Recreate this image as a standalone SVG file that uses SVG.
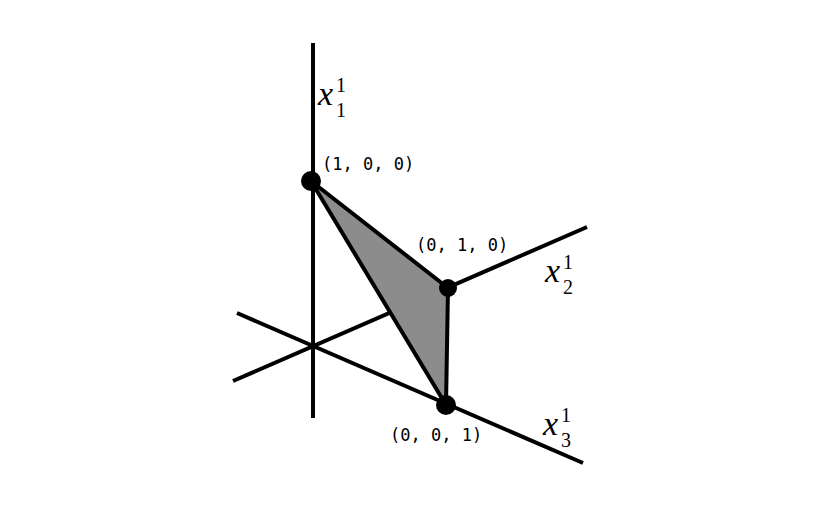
<svg xmlns="http://www.w3.org/2000/svg" width="820" height="510" viewBox="0 0 820 510">
<style>
.ax{stroke:#000;stroke-width:4;fill:none}
.lb{font-family:"DejaVu Sans Mono","Liberation Mono",monospace;font-size:17px;fill:#000}
.v{font-family:"Liberation Serif",serif;font-style:italic;font-size:34px;fill:#000}
.s{font-family:"Liberation Serif",serif;font-size:20px;fill:#000}
</style>
<rect width="820" height="510" fill="#fff"/>
<g id="connectors">
<line class="ax" x1="313" y1="43" x2="313" y2="418"/>
<line class="ax" x1="237" y1="313" x2="583" y2="463"/>
<line class="ax" x1="233" y1="381" x2="587" y2="227"/>
</g>
<g id="simplex">
<polygon points="311,181 448,288 446,405" fill="#8c8c8c" stroke="#000" stroke-width="4" stroke-linejoin="round"/>
</g>
<g id="p100"><circle cx="311" cy="181" r="10"/><text class="lb" x="322" y="170">(1, 0, 0)</text></g>
<g id="p010"><circle cx="448" cy="288" r="9"/><text class="lb" x="416" y="251">(0, 1, 0)</text></g>
<g id="p001"><circle cx="446" cy="405" r="10"/><text class="lb" x="390" y="441">(0, 0, 1)</text></g>
<g id="x1"><text class="v" x="318" y="105">x</text><text class="s" x="336" y="92">1</text><text class="s" x="336" y="117">1</text></g>
<g id="x2"><text class="v" x="545" y="282">x</text><text class="s" x="563" y="269">1</text><text class="s" x="563" y="294">2</text></g>
<g id="x3"><text class="v" x="543" y="435">x</text><text class="s" x="561" y="422">1</text><text class="s" x="561" y="447">3</text></g>
</svg>
